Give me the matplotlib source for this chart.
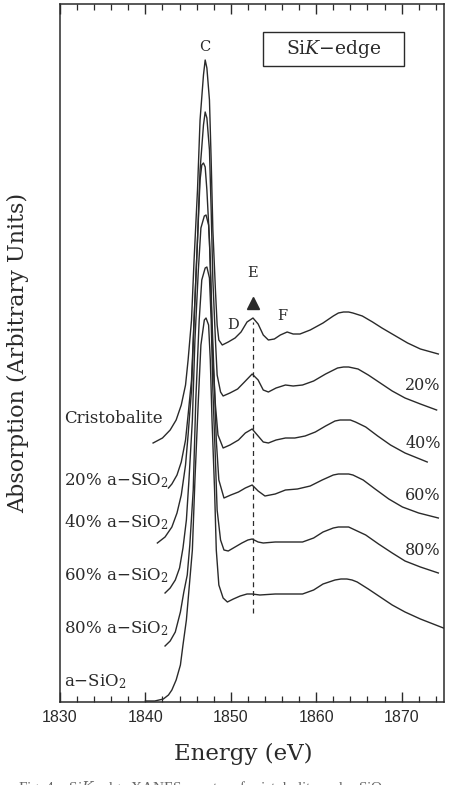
import numpy as np
import matplotlib
matplotlib.use("Agg")
import matplotlib.pyplot as plt
from matplotlib.patches import Rectangle
from matplotlib.ticker import MultipleLocator

plt.rcParams["font.family"] = ["DejaVu Serif"]
plt.rcParams["mathtext.fontset"] = "dejavuserif"

# Si K-edge XANES (energy in eV, absorption in arbitrary offset units)
cristo_e = [1840.9, 1842.0, 1842.9, 1843.6, 1844.2, 1844.7, 1845.0, 1845.4, 1845.7, 1846.1,
            1846.4, 1846.8, 1847.0, 1847.2, 1847.5, 1847.7, 1847.9, 1848.2, 1848.4, 1848.6,
            1849.0, 1849.7, 1850.5, 1851.2, 1851.9, 1852.6, 1853.2, 1853.8, 1854.4, 1855.1,
            1855.8, 1856.6, 1857.3, 1858.1, 1859.3, 1860.8, 1862.0, 1862.6, 1863.2, 1863.8,
            1864.3, 1865.4, 1866.6, 1867.7, 1869.3, 1870.7, 1872.2, 1874.3]
cristo_y = [2.59, 2.64, 2.72, 2.82, 2.97, 3.17, 3.42, 3.82, 4.42, 5.12,
            5.82, 6.27, 6.42, 6.34, 6.02, 5.42, 4.72, 4.12, 3.77, 3.62,
            3.57, 3.60, 3.64, 3.70, 3.80, 3.84, 3.78, 3.67, 3.62, 3.63,
            3.67, 3.70, 3.68, 3.68, 3.72, 3.79, 3.86, 3.89, 3.90, 3.90,
            3.89, 3.86, 3.80, 3.74, 3.66, 3.59, 3.53, 3.48]

a20_e = [1842.7, 1843.1, 1843.7, 1844.2, 1844.7, 1845.0, 1845.4, 1845.7, 1846.1, 1846.4,
         1846.8, 1847.0, 1847.2, 1847.5, 1847.7, 1847.9, 1848.2, 1848.4, 1848.8, 1849.1,
         1849.9, 1850.8, 1851.6, 1852.5, 1853.2, 1853.8, 1854.4, 1855.3, 1856.4, 1857.3,
         1858.4, 1859.7, 1861.1, 1862.5, 1863.2, 1863.8, 1864.9, 1866.1, 1867.5, 1868.9,
         1870.4, 1872.2, 1874.1]
a20_y = [2.14, 2.18, 2.27, 2.40, 2.62, 2.87, 3.22, 3.82, 4.62, 5.32,
         5.77, 5.90, 5.84, 5.52, 4.92, 4.22, 3.62, 3.27, 3.10, 3.06,
         3.09, 3.13, 3.20, 3.28, 3.22, 3.12, 3.10, 3.14, 3.17, 3.16,
         3.17, 3.21, 3.28, 3.34, 3.35, 3.35, 3.33, 3.27, 3.19, 3.11,
         3.04, 2.98, 2.92]

a40_e = [1841.4, 1842.3, 1843.1, 1843.7, 1844.2, 1844.7, 1845.0, 1845.4, 1845.7, 1846.1,
         1846.4, 1846.6, 1846.8, 1847.0, 1847.2, 1847.5, 1847.7, 1847.9, 1848.2, 1848.5,
         1849.1, 1849.9, 1850.9, 1851.7, 1852.5, 1853.2, 1853.8, 1854.4, 1855.3, 1856.4,
         1857.5, 1858.7, 1859.9, 1861.1, 1862.2, 1862.8, 1863.4, 1864.0, 1864.6, 1865.8,
         1867.2, 1868.7, 1870.4, 1873.0]
a40_y = [1.59, 1.65, 1.75, 1.89, 2.07, 2.37, 2.67, 3.12, 3.82, 4.62,
         5.22, 5.37, 5.39, 5.35, 5.12, 4.62, 4.02, 3.42, 2.97, 2.67,
         2.54, 2.57, 2.62, 2.69, 2.73, 2.66, 2.60, 2.59, 2.62, 2.64,
         2.64, 2.66, 2.70, 2.76, 2.81, 2.82, 2.82, 2.82, 2.80, 2.75,
         2.66, 2.57, 2.49, 2.40]

a60_e = [1842.3, 1842.9, 1843.5, 1844.0, 1844.4, 1844.8, 1845.1, 1845.5, 1845.8, 1846.2,
         1846.5, 1846.9, 1847.1, 1847.4, 1847.6, 1847.8, 1848.1, 1848.3, 1848.6, 1849.2,
         1850.0, 1850.9, 1851.7, 1852.5, 1853.2, 1854.0, 1855.2, 1856.4, 1857.8, 1859.3,
         1860.7, 1862.0, 1862.6, 1863.2, 1863.8, 1864.3, 1865.5, 1866.9, 1868.5, 1870.1,
         1872.0, 1874.3]
a60_y = [1.09, 1.14, 1.22, 1.34, 1.54, 1.82, 2.22, 2.82, 3.62, 4.32,
         4.74, 4.86, 4.87, 4.77, 4.42, 3.82, 3.12, 2.62, 2.22, 2.04,
         2.07, 2.10, 2.14, 2.17, 2.11, 2.06, 2.08, 2.12, 2.13, 2.16,
         2.22, 2.27, 2.28, 2.28, 2.28, 2.27, 2.22, 2.13, 2.03, 1.95,
         1.89, 1.84]

a80_e = [1842.3, 1842.9, 1843.5, 1844.1, 1844.5, 1844.9, 1845.2, 1845.6, 1845.9, 1846.3,
         1846.6, 1847.0, 1847.2, 1847.5, 1847.7, 1847.9, 1848.2, 1848.4, 1848.8, 1849.2,
         1849.7, 1850.5, 1851.3, 1852.0, 1852.5, 1853.2, 1853.8, 1855.2, 1857.0, 1858.4,
         1859.7, 1860.8, 1862.0, 1862.6, 1863.2, 1863.8, 1864.3, 1865.8, 1867.3, 1868.9,
         1870.4, 1872.2, 1874.3]
a80_y = [0.56, 0.61, 0.70, 0.90, 1.10, 1.27, 1.57, 2.12, 3.02, 3.82,
         4.22, 4.34, 4.35, 4.24, 3.82, 3.12, 2.42, 1.92, 1.62, 1.52,
         1.51, 1.55, 1.59, 1.62, 1.63, 1.60, 1.59, 1.60, 1.60, 1.60,
         1.64, 1.70, 1.74, 1.75, 1.75, 1.75, 1.73, 1.67, 1.58, 1.49,
         1.41, 1.35, 1.29]

asio2_e = [1840.0, 1841.1, 1842.1, 1842.7, 1843.1, 1843.6, 1844.1, 1844.4, 1844.8, 1845.1,
           1845.5, 1845.8, 1846.2, 1846.5, 1846.9, 1847.1, 1847.4, 1847.6, 1847.8, 1848.1,
           1848.3, 1848.6, 1849.1, 1849.6, 1850.3, 1851.1, 1851.9, 1852.5, 1853.4, 1855.2,
           1857.0, 1858.4, 1859.7, 1860.8, 1862.2, 1862.9, 1863.6, 1864.2, 1864.8, 1866.1,
           1867.5, 1868.9, 1870.4, 1872.2, 1874.9]
asio2_y = [0.01, 0.01, 0.03, 0.07, 0.12, 0.22, 0.37, 0.57, 0.82, 1.12,
           1.52, 2.22, 3.02, 3.57, 3.82, 3.84, 3.77, 3.42, 2.82, 2.12,
           1.52, 1.17, 1.04, 1.00, 1.03, 1.06, 1.08, 1.08, 1.07, 1.08,
           1.08, 1.08, 1.12, 1.18, 1.22, 1.23, 1.23, 1.22, 1.20, 1.13,
           1.05, 0.97, 0.90, 0.83, 0.74]

left_labels = ["Cristobalite", "20% a\u2212SiO$_2$", "40% a\u2212SiO$_2$",
               "60% a\u2212SiO$_2$", "80% a\u2212SiO$_2$", "a\u2212SiO$_2$"]
left_label_y = [2.79, 2.17, 1.75, 1.22, 0.69, 0.16]
right_labels = ["20%", "40%", "60%", "80%"]
right_label_y = [3.12, 2.54, 2.02, 1.47]

# feature markers
peak_e = 1852.6
dash_range = (0.89, 3.80)
feature_labels = {"C": (1847.0, 6.55), "D": (1850.3, 3.77), "E": (1852.6, 4.29), "F": (1856.0, 3.86)}
triangle_y = 3.99

ink = "#2a2a2a"

fig = plt.figure(figsize=(4.74, 7.85), dpi=100)
ax = fig.add_axes([60 / 474, 1 - 702 / 785, 384.3 / 474, 698 / 785])

for e, y in [(cristo_e, cristo_y), (a20_e, a20_y), (a40_e, a40_y),
             (a60_e, a60_y), (a80_e, a80_y), (asio2_e, asio2_y)]:
    ax.plot(e, y, color=ink, lw=1.0, solid_joinstyle="round")

ax.plot([peak_e, peak_e], dash_range, color=ink, lw=0.9, linestyle=(0, (4, 3)))
ax.plot([peak_e], [triangle_y], marker="^", color=ink, markersize=8, linestyle="none")

for name, (fx, fy) in feature_labels.items():
    ax.text(fx, fy, name, ha="center", va="center", fontsize=10.5, color=ink)

for lab, yy in zip(left_labels, left_label_y):
    ax.text(0.011, yy, lab, transform=ax.get_yaxis_transform(), ha="left",
            va="baseline", fontsize=12, color=ink)
for lab, yy in zip(right_labels, right_label_y):
    ax.text(0.991, yy, lab, transform=ax.get_yaxis_transform(), ha="right",
            va="baseline", fontsize=11.5, color=ink)

# Si K-edge box
ax.add_patch(Rectangle((0.528, 0.911), 0.367, 0.049, transform=ax.transAxes,
                       fill=False, edgecolor=ink, lw=1.0))
ax.text(0.712, 0.936, "Si$K$\u2212edge", transform=ax.transAxes, ha="center",
        va="center", fontsize=13.5, color=ink)

ax.set_xlim(1830, 1875)
ax.set_ylim(0, 6.98)
ax.set_yticks([])
ax.xaxis.set_major_locator(MultipleLocator(10))
ax.xaxis.set_minor_locator(MultipleLocator(2))
ax.tick_params(axis="x", which="both", direction="in", top=True, colors=ink)
ax.tick_params(axis="x", which="major", length=7, width=1.0, pad=6,
               labelsize=11.5, labelfontfamily="Liberation Sans")
ax.tick_params(axis="x", which="minor", length=4, width=0.9)
for sp in ax.spines.values():
    sp.set_color(ink)
    sp.set_linewidth(1.1)

ax.set_xlabel("Energy (eV)", fontsize=16.5, color=ink)
ax.xaxis.set_label_coords(0.476, -0.058)
ax.set_ylabel("Absorption (Arbitrary Units)", fontsize=16, color=ink)
ax.yaxis.set_label_coords(-0.08, 0.5)

# caption line, cut at the bottom edge like the scan
fig.text(18 / 474, 1 - 779 / 785, "Fig. 4.   Si$K$-edge XANES spectra of cristobalite and a-SiO$_2$",
         ha="left", va="top", fontsize=11, color="#666666", family="Liberation Serif")

fig.savefig("out.png", dpi=100)
